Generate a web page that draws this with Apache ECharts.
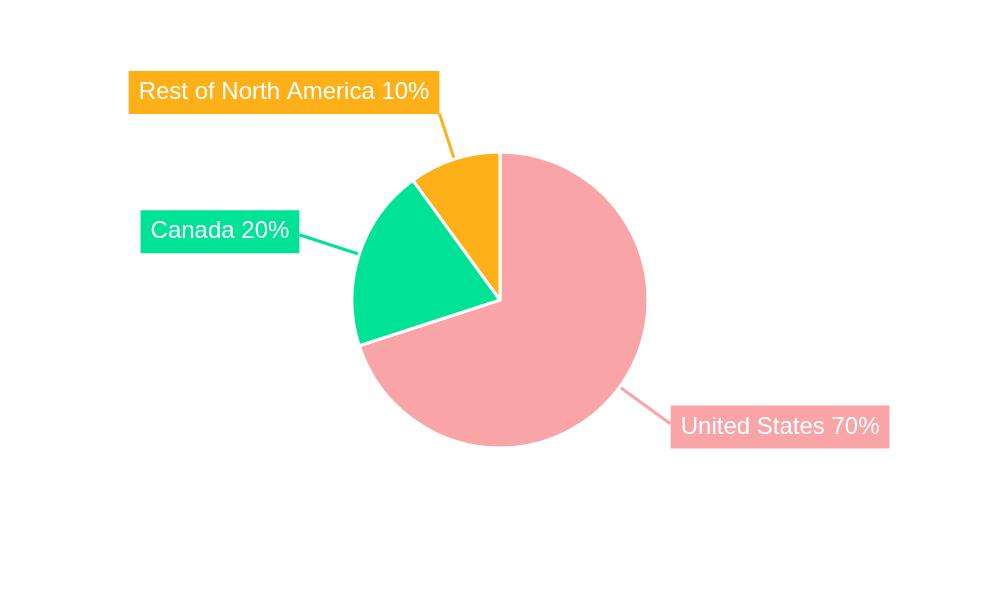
<!DOCTYPE html>
<html>
<head>
<meta charset="utf-8">
<script src="https://cdn.jsdelivr.net/npm/echarts@6/dist/echarts.min.js"></script>
<style>html,body{margin:0;padding:0;background:#fff}#c{width:1000px;height:600px}</style>
</head>
<body>
<div id="c"></div>
<script>
const categories = ['United States', 'Canada', 'Rest of North America'];
const values = [70, 20, 10];
const colors = ['#F9A5A7', '#00E396', '#FEB019'];

const chart = echarts.init(document.getElementById('c'), null, {renderer: 'canvas'});
const lineLengths = [63, 63, 48];
const labelShift = [3, -3, -21];
const data = categories.map((name, i) => ({
  name: name,
  value: values[i],
  itemStyle: {color: colors[i]},
  label: {backgroundColor: colors[i]},
  labelLine: {length: lineLengths[i]}
}));
chart.setOption({
  animation: false,
  series: [{
    type: 'pie',
    center: ['50%', '50%'],
    radius: 148,
    startAngle: 90,
    clockwise: true,
    avoidLabelOverlap: false,
    itemStyle: {borderColor: '#fff', borderWidth: 3},
    label: {
      show: true,
      position: 'outside',
      formatter: '{b} {d}%',
      color: '#fff',
      fontSize: 24,
      lineHeight: 24,
      fontFamily: 'Liberation Sans, Arial, sans-serif',
      padding: [10, 10, 9, 10],
      distanceToLabelLine: 0
    },
    labelLine: {show: true, length: 63, length2: 0, lineStyle: {width: 3}},
    labelLayout: function (p) { return {dy: labelShift[p.dataIndex]}; },
    data: data
  }]
});
</script>
</body>
</html>
